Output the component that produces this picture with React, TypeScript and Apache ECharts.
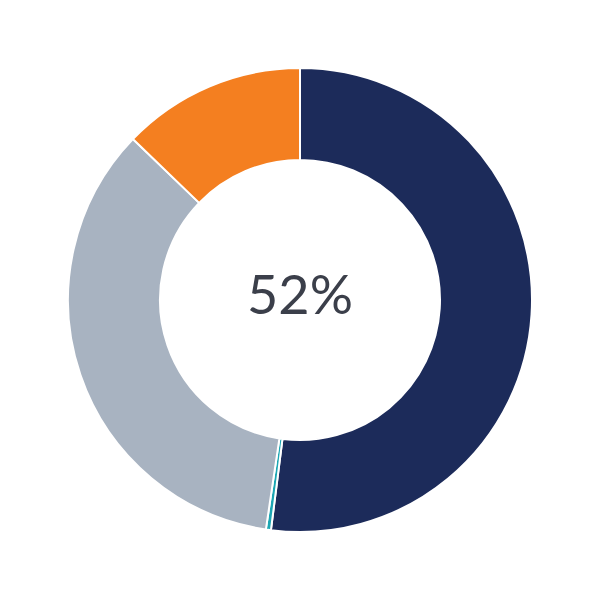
import React, { useEffect, useRef } from "react";
import * as echarts from "echarts";

const categories = ["Navy", "Teal", "Gray", "Orange"];
const values = [52, 0.35, 34.85, 12.8];
const colors = ["#1c2b5a", "#1ba6b3", "#a8b3c1", "#f47f20"];
const centerLabel = "52%";

export default function App() {
  const ref = useRef<HTMLDivElement>(null);
  useEffect(() => {
    if (!ref.current) return;
    const chart = echarts.init(ref.current, undefined, { renderer: "svg" });
    chart.setOption({
      animation: false,
      graphic: [
        {
          type: "text",
          left: "center",
          top: 266,
          style: {
            text: centerLabel,
            fontFamily: "Lato",
            fontWeight: 400,
            fontSize: 54,
            fill: "#3b3f4a",
          },
        },
      ],
      series: [
        {
          type: "pie",
          radius: [140, 232],
          center: [300, 300],
          startAngle: 90,
          clockwise: true,
          label: { show: false },
          labelLine: { show: false },
          itemStyle: { borderColor: "#ffffff", borderWidth: 2 },
          data: categories.map((c, i) => ({ name: c, value: values[i], itemStyle: { color: colors[i] } })),
        },
      ],
    });
    return () => chart.dispose();
  }, []);
  return <div ref={ref} style={{ position: "fixed", left: 0, top: 0, width: 600, height: 600 }} />;
}
